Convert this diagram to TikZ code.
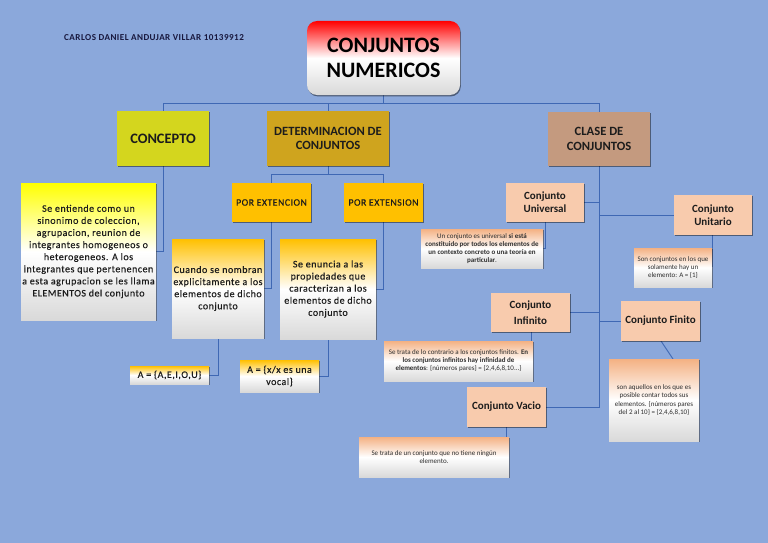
\documentclass[tikz,border=0pt]{standalone}
\usepackage{fontspec}
\setmainfont{Carlito}
\usetikzlibrary{shadows,backgrounds}
\definecolor{pagebg}{HTML}{8BA8DB}
\definecolor{linkc}{HTML}{3F68B4}
\definecolor{inkc}{HTML}{1C1C1C}
\definecolor{greyend}{HTML}{D9D9D9}
\definecolor{goldc}{HTML}{FFC000}
\definecolor{peachc}{HTML}{F8CBAD}
\definecolor{peachtop}{HTML}{F4B183}
\definecolor{concc}{HTML}{D4D61E}
\definecolor{detc}{HTML}{CFA41E}
\definecolor{clac}{HTML}{C49A7F}
\newcommand\fsz[2]{\fontsize{#1}{\the\dimexpr #1pt*#2/100\relax}\selectfont}
\tikzset{
  x=1pt,y=-1pt,
  box/.style n args={4}{at={({(#1+#3)/2},{(#2+#4)/2})},minimum width={(#3-#1)*1pt},minimum height={(#4-#2)*1pt}},
  base/.style={inner sep=0pt,align=center,text=inkc,drop shadow={shadow xshift=0.8pt,shadow yshift=-1.4pt,fill=black,opacity=.45}},
  flat/.style={base,fill=#1},
  grad/.style={base,top color=#1,bottom color=greyend,middle color=white},
  hd/.style={font=\fsz{#1}{116}\bfseries},
  bodytxt/.style={font=\fsz{#1}{121}\addfontfeature{LetterSpace=5,FakeBold=0.35}},
  small/.style={font=\fsz{#1}{116},text=black!82},
  link/.style={draw=linkc,line width=0.9pt},
}
\begin{document}
\begin{tikzpicture}
\useasboundingbox (0,0) rectangle (768,543);
\node[anchor=west,inner sep=0pt,font=\fsz{9.1}{120}\bfseries\addfontfeature{LetterSpace=5},text=inkc!85!blue] (author) at (64,38) {CARLOS DANIEL ANDUJAR VILLAR 10139912};
\node[grad=red,box={307}{21}{460}{95},rounded corners=10pt,hd=22,text=black] (title) {CONJUNTOS\\NUMERICOS};
\node[flat=concc,box={117}{111}{209}{166},hd=14.4] (concepto) {CONCEPTO};
\node[flat=detc,box={267}{111}{389}{166},hd=12.6] (determ) {DETERMINACION DE\\CONJUNTOS};
\node[flat=clac,box={548}{112}{650}{166},hd=12.6] (clase) {CLASE DE\\CONJUNTOS};
\node[grad=yellow,box={21}{183}{156}{320},bodytxt=10] (ctext) {Se entiende como un\\sinonimo de coleccion,\\agrupacion, reunion de\\integrantes homogeneos o\\heterogeneos. A los\\integrantes que pertenencen\\a esta agrupacion se les llama\\ELEMENTOS del conjunto};
\node[flat=goldc,box={232}{183}{311}{222},bodytxt=9.8] (extc) {POR EXTENCION};
\node[flat=goldc,box={344}{183}{423}{222},bodytxt=9.8] (exts) {POR EXTENSION};
\node[grad=goldc,box={172}{239}{264}{338},bodytxt=10] (cuando) {Cuando se nombran\\explicitamente a los\\elementos de dicho\\conjunto};
\node[grad=goldc,box={280}{239}{376}{339},bodytxt=10] (enuncia) {Se enuncia a las\\propiedades que\\caracterizan a los\\elementos de dicho\\conjunto};
\node[grad=goldc,box={130}{366}{209}{384},bodytxt=10] (aone) {A = \{A,E,I,O,U\}};
\node[grad=goldc,box={240}{360}{319}{392},bodytxt=10] (atwo) {A = \{x/x es una\\vocal\}};
\node[flat=peachc,box={506}{183}{584}{222},hd=11] (univ) {Conjunto\\Universal};
\node[flat=peachc,box={674}{195}{752}{235},hd=11] (unit) {Conjunto\\Unitario};
\node[flat=peachc,box={491}{293}{570}{332},font=\fsz{11}{146}\bfseries] (inf) {Conjunto\\Infinito};
\node[flat=peachc,box={621}{301}{700}{341},hd=11] (fin) {Conjunto Finito};
\node[flat=peachc,box={467}{387}{546}{427},hd=11] (vacio) {Conjunto Vacio};
\node[grad=peachtop,box={421}{229}{543}{268},small=7] (tuniv) {Un conjunto es universal \textbf{si está}\\\textbf{constituido por todos los elementos de}\\\textbf{un contexto concreto o una teoría en}\\\textbf{particular}.};
\node[grad=peachtop,box={634}{248}{712}{287},small=7] (tunit) {Son conjuntos en los que\\solamente hay un\\elemento: A = \{1\}};
\node[grad=peachtop,box={384}{341}{533}{381},small=7] (tinf) {Se trata de lo contrario a los conjuntos finitos. \textbf{En}\\\textbf{los conjuntos infinitos hay infinidad de}\\\textbf{elementos}: \{números pares\} = \{2,4,6,8,10...\}};
\node[grad=peachtop,box={609}{359}{699}{441},small=7] (tfin) {son aquellos en los que es\\posible contar todos sus\\elementos. \{números pares\\del 2 al 10\} = \{2,4,6,8,10\}};
\node[grad=peachtop,box={359}{437}{509}{477},small=7] (tvac) {Se trata de un conjunto que no tiene ningún\\elemento.};
\begin{scope}[on background layer]
\fill[pagebg] (0,0) rectangle (768,543);
\coordinate (rail) at (0,103);
\coordinate (rtwo) at (0,174);
\draw[link] (title) -- (title |- rail);
\draw[link] (concepto |- rail) -- (clase |- rail);
\draw[link] (concepto |- rail) -- (concepto);
\draw[link] (determ |- rail) -- (determ);
\draw[link] (clase |- rail) -- (clase);
\draw[link] (concepto) |- (ctext);
\draw[link] (determ) -- (determ |- rtwo);
\draw[link] (extc |- rtwo) -- (exts |- rtwo);
\draw[link] (extc |- rtwo) -- (extc);
\draw[link] (exts |- rtwo) -- (exts);
\draw[link] (extc) |- (cuando);
\draw[link] (exts) |- (enuncia);
\draw[link] (cuando) |- (aone);
\draw[link] (enuncia) |- (atwo);
\draw[link] (clase) |- (vacio);
\draw[link] (clase) |- (univ);
\draw[link] (clase) |- (unit);
\draw[link] (clase |- inf) -- (inf);
\draw[link] (clase |- fin) -- (fin);
\coordinate (ua) at (545,222);
\draw[link] (ua) |- (tuniv);
\coordinate (un) at (712.6,235);
\coordinate (unb) at (712.6,267);
\draw[link] (un) -- (unb);
\coordinate (ia) at (531,332);
\coordinate (ib) at (531,341);
\draw[link] (ia) -- (ib);
\coordinate (fa) at (661,341);
\coordinate (fb) at (673,359);
\draw[link] (fa) -- (fb);
\coordinate (va) at (506,427);
\coordinate (vb) at (506,437);
\draw[link] (va) -- (vb);
\end{scope}
\end{tikzpicture}
\end{document}
